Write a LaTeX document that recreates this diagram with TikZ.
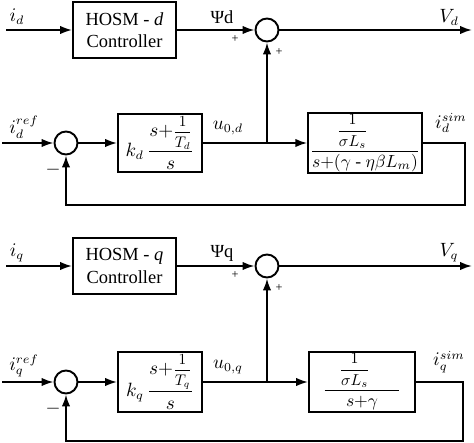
\documentclass[tikz,border=0pt]{standalone}
\usepackage{fontspec}
\usepackage{graphicx}
\setmainfont{Liberation Serif}
\usetikzlibrary{arrows.meta}

\newcommand{\plantnum}{\scalebox{0.9}{$\displaystyle\frac{1}{\sigma L_s}$}}
\newcommand{\intterm}[1]{\scalebox{0.8}{$\displaystyle\frac{1}{T_{#1}}$}}

\begin{document}
\begin{tikzpicture}[x=0.02cm, y=-0.02cm, line width=1.1pt,
    >={Latex[length=2.4mm,width=1.7mm]},
    font=\fontsize{10.5}{12.6}\selectfont,
    block/.style={draw, rectangle, minimum width=2.06cm, minimum height=1.12cm, align=center},
    pictrl/.style={block, minimum width=1.68cm, inner sep=1pt},
    plant/.style={block, minimum width=2.12cm, minimum height=1.2cm, inner sep=1pt, font=\fontsize{10}{12}\selectfont},
    sum/.style={draw, circle, minimum size=0.46cm, inner sep=0pt},
    sign/.style={font=\fontsize{7}{8}\selectfont}]
    \useasboundingbox (0,0) rectangle (474,443);

    % d-axis
    \begin{scope}
        \node[block] (hosmd) at (124.5,30) {HOSM - \textit{d}\\Controller};
        \node[sum] (sumd) at (267,30) {};
        \coordinate (idin) at (6,30);
        \coordinate (vdout) at (472,30);
        \draw[->] (idin) -- (hosmd);
        \draw[->] (hosmd) -- (sumd);
        \draw[->] (sumd) -- (vdout);
        \node at (17,17) {$i_d$};
        \node at (222,17) {Ψd};
        \node[sign] at (235,39) {+};
        \node[sign] at (279,52) {+};
        \node at (449,17) {$V_d$};

        \node[sum] (refd) at (66,143) {};
        \node[pictrl] (pid) at (160,143) {$\displaystyle k_d\,\frac{s{+}\intterm{d}}{s}$};
        \node[plant] (plantd) at (365,143) {$\displaystyle\frac{\plantnum}{s{+}(\gamma\mbox{ - }\eta\beta L_m)}$};
        \coordinate (idref) at (2,143);
        \coordinate (fbd) at (465,205);
        \draw[->] (idref) -- (refd);
        \draw[->] (refd) -- (pid);
        \draw[->] (pid) -- (plantd);
        \draw[->] (sumd |- pid.east) -- (sumd);
        \draw[->] (plantd) -| (fbd) -| (refd);
        \node at (24,127) {$i_d^{ref}$};
        \node at (53,170) {$-$};
        \node at (228,128) {$u_{0,d}$};
        \node at (451,123) {$i_d^{sim}$};
    \end{scope}

    % q-axis
    \begin{scope}[shift={(0,236)}]
        \node[block] (hosmq) at (124.5,30) {HOSM - \textit{q}\\Controller};
        \node[sum] (sumq) at (267,30) {};
        \coordinate (iqin) at (6,30);
        \coordinate (vqout) at (472,30);
        \draw[->] (iqin) -- (hosmq);
        \draw[->] (hosmq) -- (sumq);
        \draw[->] (sumq) -- (vqout);
        \node at (17,17) {$i_q$};
        \node at (222,17) {Ψq};
        \node[sign] at (235,39) {+};
        \node[sign] at (279,52) {+};
        \node at (449,17) {$V_q$};

        \node[sum] (refq) at (66,146) {};
        \node[pictrl] (piq) at (160,146) {$\displaystyle k_q\,\frac{s{+}\intterm{q}}{s}$};
        \node[plant] (plantq) at (362,146) {$\displaystyle\frac{\plantnum}{\makebox[1.5cm]{$s{+}\gamma$}}$};
        \coordinate (iqref) at (2,146);
        \coordinate (fbq) at (463,205);
        \draw[->] (iqref) -- (refq);
        \draw[->] (refq) -- (piq);
        \draw[->] (piq) -- (plantq);
        \draw[->] (sumq |- piq.east) -- (sumq);
        \draw[->] (plantq) -| (fbq) -| (refq);
        \node at (24,130) {$i_q^{ref}$};
        \node at (53,173) {$-$};
        \node at (228,131) {$u_{0,q}$};
        \node at (449,126) {$i_q^{sim}$};
    \end{scope}
\end{tikzpicture}
\end{document}
